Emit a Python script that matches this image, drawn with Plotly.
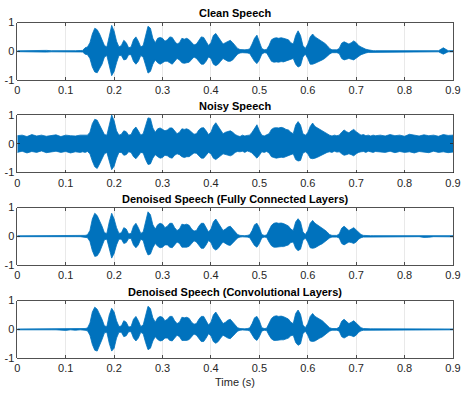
import plotly.graph_objects as go

# ---- time grid (s) ----
T_HEAD = [0.0, 0.01, 0.02, 0.03, 0.04, 0.05, 0.06, 0.07, 0.08, 0.09, 0.10, 0.11, 0.12, 0.13]
T_MID = [0.135, 0.14, 0.145, 0.15, 0.155, 0.16, 0.165, 0.17, 0.175, 0.18,
         0.185, 0.19, 0.195, 0.20, 0.205, 0.21, 0.215, 0.22, 0.225, 0.23,
         0.235, 0.24, 0.245, 0.25, 0.255, 0.26, 0.265, 0.27, 0.275, 0.28,
         0.285, 0.29, 0.295, 0.30, 0.305, 0.31, 0.315, 0.32, 0.325, 0.33,
         0.335, 0.34, 0.345, 0.35, 0.355, 0.36, 0.365, 0.37, 0.375, 0.38,
         0.385, 0.39, 0.395, 0.40, 0.405, 0.41, 0.415, 0.42, 0.425, 0.43,
         0.435, 0.44, 0.445, 0.45, 0.455, 0.46, 0.465, 0.47, 0.475, 0.48,
         0.485, 0.49, 0.495, 0.50, 0.505, 0.51, 0.515, 0.52, 0.525, 0.53,
         0.535, 0.54, 0.545, 0.55, 0.555, 0.56, 0.565, 0.57, 0.575, 0.58,
         0.585, 0.59, 0.595, 0.60, 0.605, 0.61, 0.615, 0.62, 0.625, 0.63,
         0.635, 0.64, 0.645, 0.65, 0.655, 0.66, 0.665, 0.67, 0.675, 0.68,
         0.685, 0.69, 0.695, 0.70, 0.705, 0.71, 0.715, 0.72, 0.725, 0.73,
         0.735, 0.74]
T_TAIL = [0.75, 0.76, 0.77, 0.78, 0.79, 0.80, 0.81, 0.82, 0.83, 0.84, 0.85, 0.86, 0.87, 0.88, 0.89, 0.90]
TIME = T_HEAD + T_MID + T_TAIL

# ---- Clean speech envelope (upper / lower) ----
clean_hi = ([0.015, 0.02, 0.015, 0.02, 0.02, 0.025, 0.03, 0.02, 0.015, 0.02, 0.015, 0.02, 0.02, 0.025] +
            [0.03, 0.12, 0.15, 0.3, 0.6, 0.8, 0.75, 0.6, 0.4, 0.2,
             0.15, 0.55, 0.9, 0.7, 0.35, 0.15, 0.2, 0.38, 0.3, 0.12,
             0.15, 0.4, 0.5, 0.35, 0.15, 0.2, 0.55, 0.87, 0.8, 0.45,
             0.3, 0.45, 0.48, 0.45, 0.35, 0.4, 0.5, 0.48, 0.35, 0.25,
             0.3, 0.45, 0.42, 0.45, 0.4, 0.3, 0.22, 0.25, 0.4, 0.5,
             0.48, 0.35, 0.2, 0.3, 0.55, 0.62, 0.5, 0.35, 0.25, 0.3,
             0.35, 0.38, 0.3, 0.2, 0.1, 0.06, 0.05, 0.05, 0.06, 0.08,
             0.25, 0.45, 0.56, 0.35, 0.1, 0.05, 0.06, 0.2, 0.4, 0.45,
             0.47, 0.45, 0.47, 0.45, 0.42, 0.4, 0.3, 0.25, 0.55, 0.71,
             0.55, 0.2, 0.1, 0.25, 0.5, 0.6, 0.5, 0.45, 0.4, 0.35,
             0.28, 0.2, 0.1, 0.05, 0.04, 0.05, 0.1, 0.28, 0.33, 0.3,
             0.25, 0.3, 0.36, 0.3, 0.2, 0.15, 0.1, 0.07, 0.05, 0.03,
             0.02, 0.02] +
            [0.02, 0.015, 0.02, 0.02, 0.015, 0.02, 0.02, 0.015, 0.02, 0.02, 0.015, 0.02, 0.02, 0.12, 0.02, 0.02])
clean_lo = ([-0.015, -0.02, -0.015, -0.02, -0.02, -0.025, -0.03, -0.02, -0.015, -0.02, -0.015, -0.02, -0.02, -0.025] +
            [-0.03, -0.1, -0.12, -0.25, -0.55, -0.72, -0.75, -0.6, -0.45, -0.2,
             -0.15, -0.5, -0.85, -0.7, -0.4, -0.15, -0.15, -0.3, -0.28, -0.12,
             -0.12, -0.35, -0.45, -0.35, -0.15, -0.2, -0.5, -0.76, -0.7, -0.45,
             -0.3, -0.4, -0.45, -0.4, -0.35, -0.35, -0.4, -0.45, -0.35, -0.25,
             -0.3, -0.4, -0.42, -0.4, -0.38, -0.3, -0.2, -0.25, -0.35, -0.45,
             -0.45, -0.35, -0.2, -0.25, -0.45, -0.5, -0.45, -0.35, -0.25, -0.3,
             -0.35, -0.35, -0.3, -0.2, -0.1, -0.06, -0.05, -0.05, -0.06, -0.08,
             -0.2, -0.35, -0.43, -0.3, -0.1, -0.05, -0.06, -0.2, -0.35, -0.38,
             -0.37, -0.38, -0.36, -0.37, -0.35, -0.33, -0.28, -0.25, -0.45, -0.55,
             -0.5, -0.2, -0.1, -0.25, -0.45, -0.45, -0.42, -0.4, -0.35, -0.3,
             -0.25, -0.18, -0.1, -0.05, -0.04, -0.05, -0.08, -0.25, -0.3, -0.28,
             -0.25, -0.28, -0.3, -0.25, -0.18, -0.12, -0.08, -0.06, -0.04, -0.03,
             -0.02, -0.02] +
            [-0.02, -0.015, -0.02, -0.02, -0.015, -0.02, -0.02, -0.015, -0.02, -0.02, -0.015, -0.02, -0.02, -0.1, -0.02, -0.02])

# ---- Noisy speech envelope ----
noisy_hi = ([0.28, 0.3, 0.25, 0.32, 0.27, 0.3, 0.26, 0.29, 0.31, 0.25, 0.3, 0.28, 0.27, 0.3] +
            [0.3, 0.28, 0.3, 0.4, 0.7, 0.85, 0.82, 0.65, 0.5, 0.32,
             0.3, 0.65, 1.0, 0.8, 0.45, 0.3, 0.33, 0.45, 0.42, 0.3,
             0.32, 0.5, 0.58, 0.45, 0.3, 0.35, 0.65, 0.9, 0.88, 0.55,
             0.4, 0.52, 0.55, 0.5, 0.45, 0.48, 0.55, 0.55, 0.45, 0.35,
             0.4, 0.52, 0.5, 0.52, 0.48, 0.4, 0.33, 0.35, 0.48, 0.55,
             0.56, 0.45, 0.32, 0.4, 0.62, 0.73, 0.6, 0.45, 0.35, 0.4,
             0.42, 0.45, 0.4, 0.32, 0.28, 0.25, 0.3, 0.27, 0.29, 0.3,
             0.4, 0.55, 0.66, 0.45, 0.3, 0.27, 0.3, 0.35, 0.5, 0.55,
             0.56, 0.55, 0.57, 0.55, 0.5, 0.48, 0.4, 0.35, 0.65, 0.77,
             0.65, 0.35, 0.3, 0.38, 0.6, 0.72, 0.6, 0.55, 0.5, 0.45,
             0.4, 0.33, 0.3, 0.27, 0.3, 0.28, 0.3, 0.4, 0.48, 0.42,
             0.38, 0.45, 0.5, 0.42, 0.35, 0.3, 0.32, 0.28, 0.3, 0.27,
             0.3, 0.28] +
            [0.3, 0.27, 0.32, 0.28, 0.3, 0.26, 0.33, 0.29, 0.27, 0.31, 0.28, 0.3, 0.26, 0.32, 0.29, 0.3])
noisy_lo = ([-0.3, -0.26, -0.32, -0.27, -0.3, -0.25, -0.31, -0.28, -0.26, -0.3, -0.27, -0.32, -0.28, -0.3] +
            [-0.28, -0.3, -0.27, -0.35, -0.6, -0.8, -0.86, -0.7, -0.5, -0.35,
             -0.3, -0.6, -0.9, -0.78, -0.5, -0.3, -0.3, -0.4, -0.38, -0.28,
             -0.3, -0.45, -0.52, -0.42, -0.3, -0.32, -0.55, -0.72, -0.7, -0.5,
             -0.38, -0.45, -0.5, -0.48, -0.4, -0.42, -0.48, -0.5, -0.4, -0.35,
             -0.38, -0.45, -0.48, -0.45, -0.45, -0.38, -0.32, -0.33, -0.42, -0.5,
             -0.5, -0.42, -0.3, -0.35, -0.5, -0.55, -0.5, -0.42, -0.35, -0.38,
             -0.4, -0.42, -0.38, -0.3, -0.27, -0.28, -0.26, -0.3, -0.25, -0.28,
             -0.32, -0.42, -0.5, -0.4, -0.28, -0.3, -0.27, -0.32, -0.45, -0.48,
             -0.5, -0.48, -0.47, -0.48, -0.45, -0.42, -0.38, -0.35, -0.55, -0.6,
             -0.58, -0.33, -0.28, -0.35, -0.5, -0.52, -0.5, -0.47, -0.42, -0.4,
             -0.35, -0.3, -0.28, -0.3, -0.26, -0.29, -0.28, -0.35, -0.4, -0.38,
             -0.35, -0.38, -0.42, -0.35, -0.3, -0.28, -0.27, -0.3, -0.26, -0.28,
             -0.3, -0.27] +
            [-0.28, -0.3, -0.26, -0.31, -0.27, -0.3, -0.28, -0.32, -0.27, -0.29, -0.31, -0.26, -0.3, -0.28, -0.31, -0.29])

# ---- Denoised (fully connected) envelope ----
fc_hi = ([0.015, 0.015, 0.02, 0.015, 0.015, 0.02, 0.015, 0.015, 0.02, 0.015, 0.015, 0.02, 0.015, 0.015] +
         [0.02, 0.03, 0.05, 0.2, 0.6, 0.8, 0.72, 0.55, 0.35, 0.12,
          0.1, 0.5, 0.8, 0.6, 0.3, 0.1, 0.12, 0.3, 0.25, 0.08,
          0.1, 0.35, 0.45, 0.3, 0.1, 0.15, 0.5, 0.85, 0.75, 0.4,
          0.25, 0.4, 0.45, 0.42, 0.3, 0.35, 0.45, 0.45, 0.3, 0.2,
          0.25, 0.42, 0.4, 0.42, 0.38, 0.25, 0.18, 0.2, 0.35, 0.45,
          0.45, 0.3, 0.15, 0.25, 0.5, 0.6, 0.45, 0.3, 0.2, 0.25,
          0.32, 0.35, 0.25, 0.15, 0.06, 0.03, 0.02, 0.02, 0.03, 0.05,
          0.2, 0.4, 0.45, 0.3, 0.06, 0.03, 0.04, 0.2, 0.38, 0.45,
          0.47, 0.45, 0.46, 0.44, 0.4, 0.36, 0.25, 0.2, 0.5, 0.61,
          0.5, 0.15, 0.06, 0.2, 0.45, 0.55, 0.45, 0.4, 0.35, 0.3,
          0.22, 0.15, 0.06, 0.03, 0.02, 0.03, 0.08, 0.28, 0.35, 0.28,
          0.2, 0.25, 0.3, 0.22, 0.12, 0.06, 0.03, 0.02, 0.02, 0.02,
          0.02, 0.02] +
         [0.015, 0.015, 0.02, 0.015, 0.015, 0.015, 0.02, 0.015, 0.015, 0.04, 0.035, 0.015, 0.015, 0.02, 0.015, 0.02])
fc_lo = ([-0.015, -0.015, -0.02, -0.015, -0.015, -0.02, -0.015, -0.015, -0.02, -0.015, -0.015, -0.02, -0.015, -0.015] +
         [-0.02, -0.03, -0.05, -0.18, -0.5, -0.7, -0.68, -0.55, -0.35, -0.12,
          -0.1, -0.45, -0.76, -0.6, -0.3, -0.1, -0.1, -0.25, -0.22, -0.08,
          -0.08, -0.3, -0.4, -0.3, -0.1, -0.15, -0.45, -0.65, -0.62, -0.4,
          -0.25, -0.35, -0.4, -0.38, -0.3, -0.3, -0.38, -0.4, -0.3, -0.2,
          -0.25, -0.38, -0.38, -0.38, -0.35, -0.25, -0.16, -0.2, -0.32, -0.42,
          -0.42, -0.3, -0.15, -0.22, -0.42, -0.48, -0.42, -0.3, -0.2, -0.25,
          -0.3, -0.32, -0.25, -0.15, -0.06, -0.03, -0.02, -0.02, -0.03, -0.05,
          -0.18, -0.32, -0.38, -0.25, -0.06, -0.03, -0.04, -0.2, -0.33, -0.38,
          -0.38, -0.38, -0.36, -0.36, -0.34, -0.3, -0.22, -0.2, -0.42, -0.5,
          -0.45, -0.15, -0.06, -0.2, -0.4, -0.42, -0.4, -0.36, -0.3, -0.26,
          -0.2, -0.13, -0.06, -0.03, -0.02, -0.03, -0.06, -0.25, -0.3, -0.25,
          -0.2, -0.22, -0.25, -0.2, -0.1, -0.05, -0.03, -0.02, -0.02, -0.02,
          -0.02, -0.02] +
         [-0.015, -0.015, -0.02, -0.015, -0.015, -0.015, -0.02, -0.015, -0.015, -0.04, -0.035, -0.015, -0.015, -0.02, -0.015, -0.02])

# ---- Denoised (convolutional) envelope ----
conv_hi = ([0.015, 0.015, 0.015, 0.02, 0.015, 0.03, 0.015, 0.015, 0.015, 0.015, 0.035, 0.015, 0.03, 0.015] +
           [0.02, 0.03, 0.05, 0.22, 0.6, 0.77, 0.7, 0.55, 0.35, 0.12,
            0.1, 0.5, 0.73, 0.6, 0.3, 0.1, 0.12, 0.3, 0.25, 0.08,
            0.1, 0.35, 0.45, 0.3, 0.1, 0.15, 0.5, 0.8, 0.72, 0.4,
            0.25, 0.4, 0.45, 0.42, 0.3, 0.35, 0.45, 0.45, 0.3, 0.2,
            0.25, 0.42, 0.4, 0.42, 0.38, 0.25, 0.18, 0.2, 0.35, 0.45,
            0.45, 0.3, 0.15, 0.25, 0.5, 0.6, 0.45, 0.3, 0.2, 0.25,
            0.32, 0.35, 0.25, 0.15, 0.06, 0.03, 0.02, 0.02, 0.03, 0.05,
            0.2, 0.4, 0.45, 0.3, 0.06, 0.03, 0.04, 0.2, 0.38, 0.45,
            0.47, 0.45, 0.46, 0.44, 0.4, 0.36, 0.25, 0.2, 0.55, 0.67,
            0.52, 0.15, 0.06, 0.2, 0.45, 0.55, 0.45, 0.4, 0.35, 0.3,
            0.22, 0.15, 0.06, 0.03, 0.02, 0.03, 0.08, 0.28, 0.35, 0.28,
            0.2, 0.25, 0.3, 0.22, 0.12, 0.06, 0.03, 0.02, 0.02, 0.02,
            0.02, 0.02] +
           [0.015, 0.015, 0.015, 0.015, 0.02, 0.015, 0.015, 0.015, 0.015, 0.04, 0.02, 0.015, 0.035, 0.015, 0.015, 0.015])
conv_lo = ([-0.015, -0.015, -0.015, -0.02, -0.015, -0.03, -0.015, -0.015, -0.015, -0.015, -0.035, -0.015, -0.03, -0.015] +
           [-0.02, -0.03, -0.05, -0.2, -0.52, -0.72, -0.75, -0.58, -0.35, -0.12,
            -0.1, -0.48, -0.75, -0.65, -0.3, -0.1, -0.1, -0.25, -0.22, -0.08,
            -0.08, -0.3, -0.4, -0.3, -0.1, -0.15, -0.45, -0.7, -0.65, -0.4,
            -0.25, -0.35, -0.4, -0.38, -0.3, -0.3, -0.38, -0.4, -0.3, -0.2,
            -0.25, -0.38, -0.38, -0.38, -0.35, -0.25, -0.16, -0.2, -0.32, -0.42,
            -0.42, -0.3, -0.15, -0.22, -0.42, -0.48, -0.42, -0.3, -0.2, -0.25,
            -0.3, -0.32, -0.25, -0.15, -0.06, -0.03, -0.02, -0.02, -0.03, -0.05,
            -0.18, -0.32, -0.38, -0.25, -0.06, -0.03, -0.04, -0.2, -0.33, -0.38,
            -0.38, -0.38, -0.36, -0.36, -0.34, -0.3, -0.22, -0.2, -0.45, -0.55,
            -0.5, -0.15, -0.06, -0.2, -0.4, -0.42, -0.4, -0.36, -0.3, -0.26,
            -0.2, -0.13, -0.06, -0.03, -0.02, -0.03, -0.06, -0.25, -0.3, -0.25,
            -0.2, -0.22, -0.25, -0.2, -0.1, -0.05, -0.03, -0.02, -0.02, -0.02,
            -0.02, -0.02] +
           [-0.015, -0.015, -0.015, -0.015, -0.02, -0.015, -0.015, -0.015, -0.015, -0.04, -0.02, -0.015, -0.035, -0.015, -0.015, -0.015])

TITLES = ["Clean Speech", "Noisy Speech",
          "Denoised Speech (Fully Connected Layers)", "Denoised Speech (Convolutional Layers)"]
SERIES = [(clean_hi, clean_lo), (noisy_hi, noisy_lo), (fc_hi, fc_lo), (conv_hi, conv_lo)]
X_TICKS = [0, 0.1, 0.2, 0.3, 0.4, 0.5, 0.6, 0.7, 0.8, 0.9]
X_TICKTEXT = ["0", "0.1", "0.2", "0.3", "0.4", "0.5", "0.6", "0.7", "0.8", "0.9"]
Y_TICKS = [-1, 0, 1]
Y_TICKTEXT = ["-1", "0", "1"]

for hi, lo in SERIES:
    assert len(hi) == len(TIME) and len(lo) == len(TIME), (len(hi), len(lo), len(TIME))

W, H = 474, 395
BLUE = "#0072BD"
AX = "#262626"
FONT = "Liberation Sans, Arial, Helvetica, sans-serif"

# pixel boxes (top, bottom) for each axes
BOXES = [(22.5, 80.0), (115.0, 172.5), (207.5, 265.0), (300.5, 358.3)]
XL, XR = 17.3, 453.0

fig = go.Figure()
annotations = []
for i, ((hi, lo), title, (top, bot)) in enumerate(zip(SERIES, TITLES, BOXES)):
    n = "" if i == 0 else str(i + 1)
    fig.add_trace(go.Scatter(
        x=TIME + TIME[::-1], y=hi + lo[::-1],
        mode="lines", fill="toself", fillcolor=BLUE,
        line=dict(color=BLUE, width=0.8),
        xaxis="x" + n, yaxis="y" + n, hoverinfo="skip", showlegend=False))
    dom_y = [1 - bot / H, 1 - top / H]
    common = dict(showline=True, linecolor=AX, linewidth=0.8, mirror="ticks",
                  ticks="inside", ticklen=3, tickcolor=AX, tickwidth=0.8,
                  showgrid=True, gridcolor="#e3e3e3", gridwidth=0.8, zeroline=False,
                  automargin=False,
                  tickfont=dict(family=FONT, size=11, color=AX))
    fig.update_layout(**{
        "xaxis" + n: dict(domain=[XL / W, XR / W], range=[0, 0.9], tickvals=X_TICKS,
                          ticktext=X_TICKTEXT, anchor="y" + n, **common),
        "yaxis" + n: dict(domain=dom_y, range=[-1, 1], tickvals=Y_TICKS,
                          ticktext=Y_TICKTEXT, anchor="x" + n, **common),
    })
    annotations.append(dict(text="<b>" + title + "</b>", x=(XL + XR) / 2 / W, y=dom_y[1],
                            xref="paper", yref="paper", xanchor="center", yanchor="bottom",
                            yshift=1, showarrow=False,
                            font=dict(family=FONT, size=11, color="#000000")))

annotations.append(dict(text="Time (s)", x=(XL + XR) / 2 / W, y=1 - 382 / H,
                        xref="paper", yref="paper", xanchor="center", yanchor="middle",
                        showarrow=False, font=dict(family=FONT, size=11, color=AX)))

fig.update_layout(width=W, height=H, margin=dict(l=0, r=0, t=0, b=0, autoexpand=False),
                  paper_bgcolor="white", plot_bgcolor="white",
                  annotations=annotations)
fig.write_html("out.html",
               config={"displayModeBar": False, "staticPlot": True},
               post_script="document.body.style.margin='0';document.body.style.overflow='hidden';")
